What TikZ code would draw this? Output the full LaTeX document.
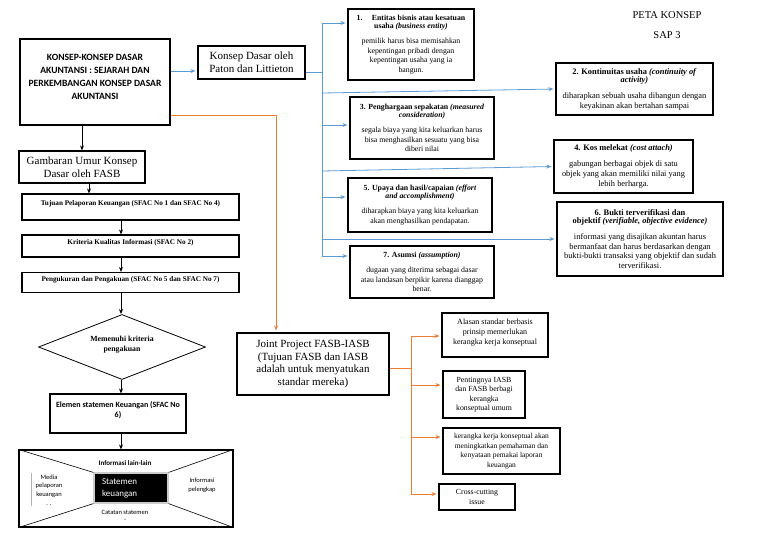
\documentclass[tikz,border=0pt]{standalone}
\usepackage{fontspec}
\setmainfont{Liberation Serif}
\newfontfamily\calibri{Carlito}
\usetikzlibrary{positioning, arrows.meta, shapes.geometric, calc}
\definecolor{patoncolor}{RGB}{91,155,213}
\definecolor{fasbcolor}{RGB}{237,125,49}

\begin{document}
\begin{tikzpicture}[x=1pt, y=-1pt,
    kotak/.style={draw, line width=1.1pt, align=center, inner sep=0pt},
    konsep/.style={kotak, font=\fontsize{7.8}{9.5}\selectfont},
    konsepbesar/.style={kotak, font=\fontsize{8.4}{9.8}\selectfont},
    sfac/.style={kotak, font=\fontsize{7.2}{8}\selectfont\bfseries},
    panah/.style={-{Stealth[length=5pt, width=4pt]}, line width=0.8pt},
    birupanah/.style={panah, patoncolor, shorten >=2pt},
    oranyepanah/.style={panah, fasbcolor, shorten >=2pt}]
    \useasboundingbox (0,0) rectangle (768,544);

    % Titre
    \node[font=\fontsize{10.5}{12}\selectfont] (peta) at (667,15) {PETA KONSEP};
    \node[font=\fontsize{10.5}{12}\selectfont] (sap) at (667,35) {SAP 3};

    % === COLONNE GAUCHE ===
    \node[kotak, minimum width=150, minimum height=86, font=\calibri\bfseries\fontsize{9.6}{13}\selectfont] (main) at (95,82) {KONSEP-KONSEP DASAR\\AKUNTANSI : SEJARAH DAN\\PERKEMBANGAN KONSEP DASAR\\AKUNTANSI\\[-3pt]\mbox{}};
    \node[kotak, minimum width=126, minimum height=32, font=\fontsize{11}{13}\selectfont] (gambaran) at (82,167) {Gambaran Umur Konsep\\Dasar oleh FASB};
    \node[sfac, minimum width=217, minimum height=26] (tujuan) at (130.5,207) {Tujuan Pelaporan Keuangan (SFAC No 1 dan SFAC No 4)\\ \mbox{}};
    \node[sfac, minimum width=217, minimum height=22] (kriteria) at (130.5,246) {Kriteria Kualitas Informasi (SFAC No 2)\\ \mbox{}};
    \node[sfac, minimum width=217, minimum height=20] (pengukuran) at (130.5,282.5) {Pengukuran dan Pengakuan (SFAC No 5 dan SFAC No 7)\\ \mbox{}};
    \node[draw, diamond, line width=0.8pt, minimum width=167, minimum height=65, inner sep=0pt, aspect=2.5, align=center, font=\fontsize{7.8}{10}\selectfont\bfseries] (syarat) at (122,347) {Memenuhi kriteria\\pengakuan\\[-4pt]\mbox{}};
    \node[kotak, minimum width=136, minimum height=39, font=\calibri\bfseries\fontsize{8}{10}\selectfont] (elemen) at (118,413.5) {Elemen statemen Keuangan (SFAC No\\6)\\[-3pt]\mbox{}};

    % Statemen keuangan
    \node[kotak, minimum width=214, minimum height=77] (lapkeu) at (126,488.5) {};
    \node[fill=black, draw=gray!40, line width=1.2pt, minimum width=74, minimum height=30, inner sep=0pt, text width=58, text=white, align=left, font=\calibri\fontsize{9}{12}\selectfont] (statemen) at (131,488) {Statemen\\keuangan};
    \draw[line width=0.6pt] (lapkeu.north west) -- (statemen.north west);
    \draw[line width=0.6pt] (lapkeu.north east) -- (statemen.north east);
    \draw[line width=0.6pt] (lapkeu.south west) -- (statemen.south west);
    \draw[line width=0.6pt] (lapkeu.south east) -- (statemen.south east);
    \node[font=\calibri\bfseries\fontsize{7}{9}\selectfont] (lainlain) at (125,463) {Informasi lain-lain};
    \node[align=center, font=\calibri\fontsize{6.5}{8.7}\selectfont] (media) at (49,490) {Media\\pelaporan\\keuangan\\. .};
    \draw[gray!60, line width=0.6pt] (31,473) -- (31,506);
    \node[align=center, font=\calibri\fontsize{6.5}{8.7}\selectfont] (pelengkap) at (202,485) {Informasi\\pelengkap};
    \node[align=center, font=\calibri\fontsize{6.5}{7}\selectfont] (catatan) at (125,516) {Catatan statemen\\-};

    % Flèches
    \coordinate (kolom) at (121,0);
    \coordinate (ga) at (89,0);
    \draw[panah] (main.south -| gambaran.north) -- (gambaran.north);
    \draw[panah] (gambaran.south -| ga) -- (tujuan.north -| ga);
    \draw[panah] (tujuan.south -| kolom) -- (kriteria.north -| kolom);
    \draw[panah] (kriteria.south -| kolom) -- (pengukuran.north -| kolom);
    \draw[panah] (pengukuran.south -| kolom) -- (syarat.north -| kolom);
    \draw[panah] (syarat.south -| kolom) -- (elemen.north -| kolom);
    \draw[panah] (elemen.south -| kolom) -- (lapkeu.north -| kolom);

    % === PATON DAN LITTLETON ===
    \node[kotak, minimum width=107, minimum height=33, font=\fontsize{11}{13}\selectfont] (paton) at (251.5,62.5) {Konsep Dasar oleh\\Paton dan Littieton};
    \coordinate (mp) at (0,71);
    \draw[birupanah] (main.east |- mp) -- (paton.west |- mp);

    \node[konsep, minimum width=126, minimum height=71] (entitas) at (411,44.5) {\textbf{1.\hspace{1.2em}Entitas bisnis atau kesatuan}\\[-1.5pt]\textbf{usaha \textit{(business entity)}}\\[6pt]pemilik harus bisa memisahkan\\kepentingan pribadi dengan\\kepentingan usaha yang ia\\bangun.};
    \node[konsepbesar, minimum width=157, minimum height=52] (kontinuitas) at (634.5,89) {\textbf{2. Kontinuitas usaha \textit{(continuity of}}\\[-1.5pt]\textbf{\textit{activity)}}\\[6pt]diharapkan sebuah usaha dibangun dengan\\keyakinan akan bertahan sampai};
    \node[konsep, minimum width=144, minimum height=62] (penghargaan) at (422,128) {\textbf{3. Penghargaan sepakatan \textit{(measured}}\\[-1.5pt]\textbf{\textit{consideration)}}\\[6pt]segala biaya yang kita keluarkan harus\\bisa menghasilkan sesuatu yang bisa\\diberi nilai};
    \node[konsepbesar, minimum width=139, minimum height=53] (kos) at (623.5,166.5) {\textbf{4. Kos melekat \textit{(cost attach)}}\\[6pt]gabungan berbagai objek di satu\\objek yang akan memiliki nilai yang\\lebih berharga.};
    \node[konsep, minimum width=144, minimum height=54] (upaya) at (420,205) {\textbf{5. Upaya dan hasil/capaian \textit{(effort}}\\[-1.5pt]\textbf{\textit{and accomplishment)}}\\[6pt]diharapkan biaya yang kita keluarkan\\akan menghasilkan pendapatan.};
    \node[konsepbesar, minimum width=166, minimum height=74] (bukti) at (640,239) {\textbf{6. Bukti terverifikasi dan}\\[-1.5pt]\textbf{objektif \textit{(verifiable, objective evidence)}}\\[6pt]informasi yang disajikan akuntan harus\\bermanfaat dan harus berdasarkan dengan\\bukti-bukti transaksi yang objektif dan sudah\\terverifikasi.};
    \node[konsep, minimum width=144, minimum height=52] (asumsi) at (422,272) {\textbf{7. Asumsi \textit{(assumption)}}\\[6pt]dugaan yang diterima sebagai dasar\\atau landasan berpikir karena dianggap\\benar.};

    % Cabang biru
    \coordinate (b0) at (322,72);
    \coordinate (b1) at (322,23);
    \coordinate (b2) at (322,93);
    \coordinate (b3) at (322,125);
    \coordinate (b4) at (322,171);
    \coordinate (b5) at (322,197);
    \coordinate (b6) at (322,239);
    \coordinate (b7) at (322,256);
    \draw[patoncolor, line width=0.8pt] (paton.east |- b0) -- (b0);
    \draw[patoncolor, line width=0.8pt] (b1) -- (b7);
    \draw[birupanah] (b1) -- (entitas.west |- b1);
    \draw[birupanah] (b2) -- (kontinuitas.west);
    \draw[birupanah] (b3) -- (penghargaan.west |- b3);
    \draw[birupanah] (b4) -- (kos.west);
    \draw[birupanah] (b5) -- (upaya.west |- b5);
    \draw[birupanah] (b6) -- (bukti.west);
    \draw[birupanah] (b7) -- (asumsi.west |- b7);

    % === JOINT PROJECT FASB-IASB ===
    \node[kotak, minimum width=152, minimum height=62, font=\fontsize{11}{12.7}\selectfont] (joint) at (313,364) {Joint Project FASB-IASB\\(Tujuan FASB dan IASB\\adalah untuk menyatukan\\standar mereka)};
    \coordinate (oc) at (276,115);
    \draw[oranyepanah] (main.east |- oc) -- (oc) -- (oc |- joint.north);

    \node[konsep, font=\fontsize{8}{10}\selectfont, minimum width=106, minimum height=44] (alasan) at (495,335) {Alasan standar berbasis\\prinsip memerlukan\\kerangka kerja konseptual\\[-3pt]\mbox{}};
    \node[konsep, minimum width=82, minimum height=47] (pentingnya) at (484,394.5) {Pentingnya IASB\\dan FASB berbagi\\kerangka\\konseptual umum};
    \node[konsep, font=\fontsize{7.5}{9.5}\selectfont, minimum width=117, minimum height=46] (kerangka) at (501.5,451) {kerangka kerja konseptual akan\\meningkatkan pemahaman dan\\kenyataan pemakai laporan\\keuangan};
    \node[konsep, minimum width=76, minimum height=26] (crosscut) at (477,497) {Cross-cutting\\issue};

    % Cabang oranye
    \coordinate (o0) at (411,368);
    \coordinate (o1) at (411,336);
    \coordinate (o2) at (411,385);
    \coordinate (o3) at (411,437);
    \coordinate (o4) at (411,494);
    \draw[fasbcolor, line width=0.8pt] (joint.east |- o0) -- (o0);
    \draw[fasbcolor, line width=0.8pt] (o1) -- (o4);
    \draw[oranyepanah] (o1) -- (alasan.west |- o1);
    \draw[oranyepanah] (o2) -- (pentingnya.west |- o2);
    \draw[oranyepanah] (o3) -- (kerangka.west |- o3);
    \draw[oranyepanah] (o4) -- (crosscut.west |- o4);
\end{tikzpicture}
\end{document}
